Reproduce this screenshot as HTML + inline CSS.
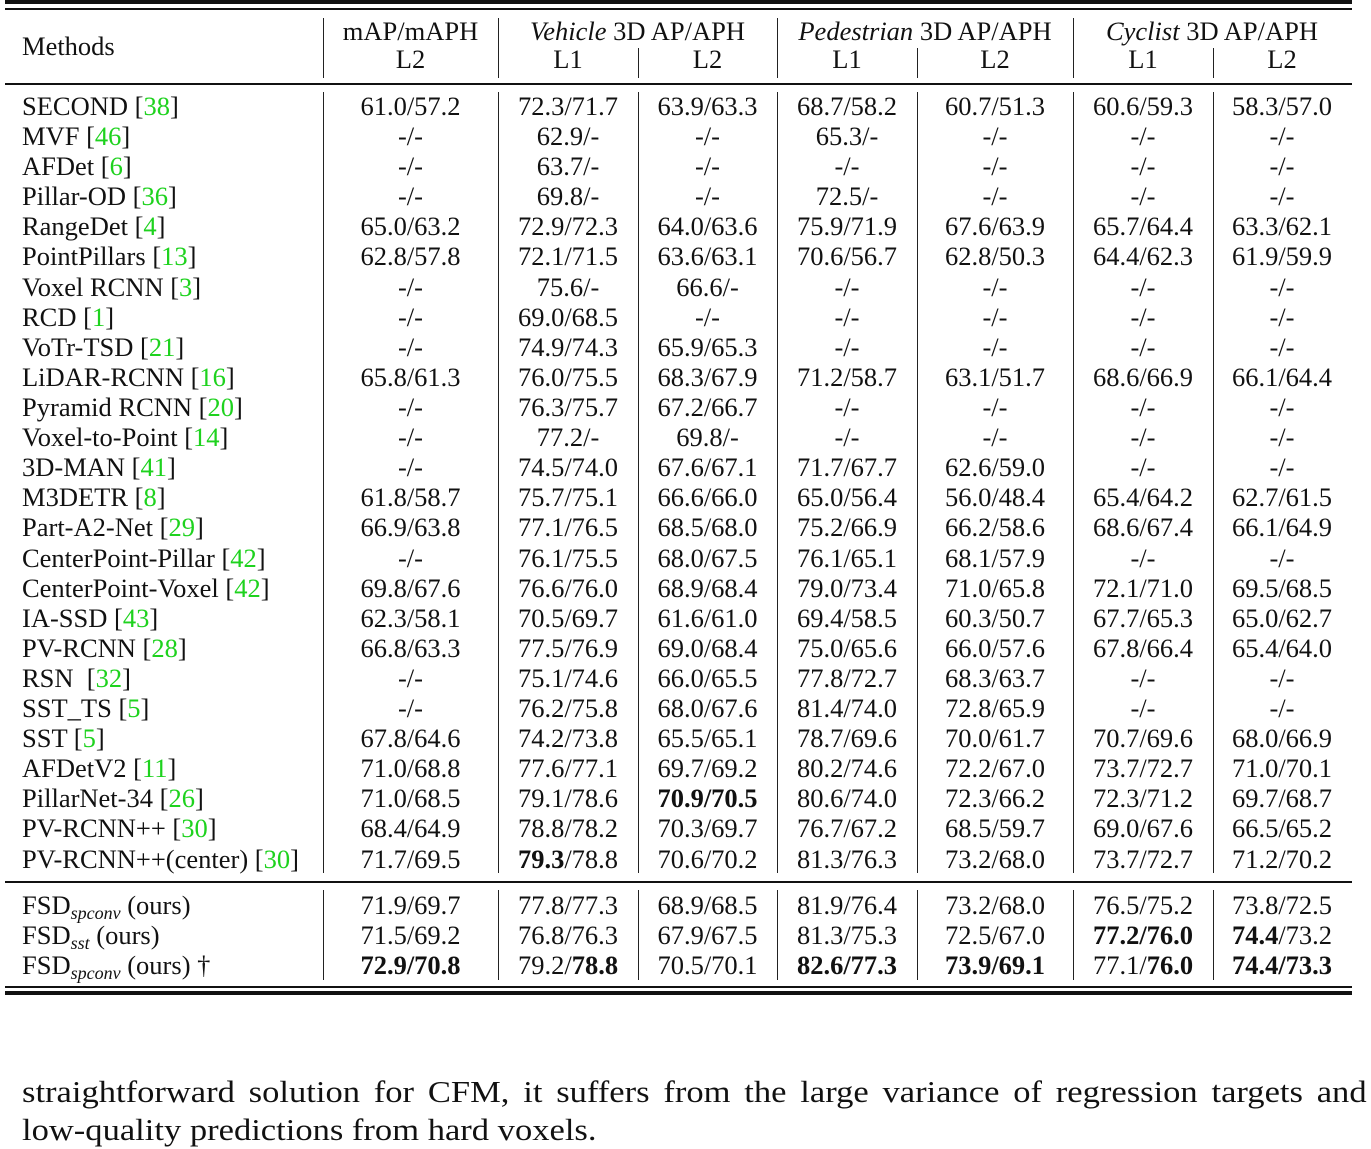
<!DOCTYPE html>
<html><head><meta charset="utf-8"><style>
body{margin:0;width:1371px;height:1148px;background:#fff;position:relative;overflow:hidden;font-family:"Liberation Serif",serif;color:#111;font-size:26.5px}
.h{position:absolute;left:5px;width:1347px;background:#111}
.v{position:absolute;width:1.3px;background:#222}
.r{position:absolute;left:0;width:1371px;height:30px;line-height:30px;white-space:nowrap}
.r span{position:absolute;top:0;text-align:center}
.r span.a{left:22px;text-align:left}
.b{left:323px;width:175px}.c{left:498px;width:140px}.d{left:638px;width:139px}.e{left:777px;width:140px}.f{left:917px;width:156px}.g{left:1073px;width:140px}.k{left:1213px;width:138px}
g{color:#1ed21e}
sub{font-size:18px;font-style:italic;vertical-align:-5px}
.t{position:absolute;left:22px;width:1207px;font-size:31px;line-height:38px;text-align:justify;transform:scaleX(1.114);transform-origin:0 0;white-space:nowrap}
</style></head><body>
<div class="h" style="top:0;height:3.5px"></div>
<div class="h" style="top:8px;height:1.5px"></div>
<div class="h" style="top:83px;height:1.5px"></div>
<div class="h" style="top:881px;height:1.5px"></div>
<div class="h" style="top:986px;height:1.5px"></div>
<div class="h" style="top:991px;height:3.5px"></div>
<div class="v" style="left:323px;top:18px;height:60px"></div>
<div class="v" style="left:498px;top:18px;height:60px"></div>
<div class="v" style="left:777px;top:18px;height:60px"></div>
<div class="v" style="left:1073px;top:18px;height:60px"></div>
<div class="v" style="left:638px;top:48px;height:30px"></div>
<div class="v" style="left:917px;top:48px;height:30px"></div>
<div class="v" style="left:1213px;top:48px;height:30px"></div>
<div class="v" style="left:323px;top:92px;height:781px"></div><div class="v" style="left:498px;top:92px;height:781px"></div><div class="v" style="left:638px;top:92px;height:781px"></div><div class="v" style="left:777px;top:92px;height:781px"></div><div class="v" style="left:917px;top:92px;height:781px"></div><div class="v" style="left:1073px;top:92px;height:781px"></div><div class="v" style="left:1213px;top:92px;height:781px"></div>
<div class="v" style="left:323px;top:890px;height:90px"></div><div class="v" style="left:498px;top:890px;height:90px"></div><div class="v" style="left:638px;top:890px;height:90px"></div><div class="v" style="left:777px;top:890px;height:90px"></div><div class="v" style="left:917px;top:890px;height:90px"></div><div class="v" style="left:1073px;top:890px;height:90px"></div><div class="v" style="left:1213px;top:890px;height:90px"></div>

<div class="r" style="top:31px"><span class="a">Methods</span></div>
<div class="r" style="top:16px"><span class="b">mAP/mAPH</span><span style="left:498px;width:279px"><i>Vehicle</i> 3D AP/APH</span><span style="left:777px;width:296px"><i>Pedestrian</i> 3D AP/APH</span><span style="left:1073px;width:278px"><i>Cyclist</i> 3D AP/APH</span></div>
<div class="r" style="top:44px"><span class="b">L2</span><span class="c">L1</span><span class="d">L2</span><span class="e">L1</span><span class="f">L2</span><span class="g">L1</span><span class="k">L2</span></div>

<div class="r" style="top:91px"><span class="a">SECOND [<g>38</g>]</span><span class="b">61.0/57.2</span><span class="c">72.3/71.7</span><span class="d">63.9/63.3</span><span class="e">68.7/58.2</span><span class="f">60.7/51.3</span><span class="g">60.6/59.3</span><span class="k">58.3/57.0</span></div>
<div class="r" style="top:121px"><span class="a">MVF [<g>46</g>]</span><span class="b">-/-</span><span class="c">62.9/-</span><span class="d">-/-</span><span class="e">65.3/-</span><span class="f">-/-</span><span class="g">-/-</span><span class="k">-/-</span></div>
<div class="r" style="top:151px"><span class="a">AFDet [<g>6</g>]</span><span class="b">-/-</span><span class="c">63.7/-</span><span class="d">-/-</span><span class="e">-/-</span><span class="f">-/-</span><span class="g">-/-</span><span class="k">-/-</span></div>
<div class="r" style="top:181px"><span class="a">Pillar-OD [<g>36</g>]</span><span class="b">-/-</span><span class="c">69.8/-</span><span class="d">-/-</span><span class="e">72.5/-</span><span class="f">-/-</span><span class="g">-/-</span><span class="k">-/-</span></div>
<div class="r" style="top:211px"><span class="a">RangeDet [<g>4</g>]</span><span class="b">65.0/63.2</span><span class="c">72.9/72.3</span><span class="d">64.0/63.6</span><span class="e">75.9/71.9</span><span class="f">67.6/63.9</span><span class="g">65.7/64.4</span><span class="k">63.3/62.1</span></div>
<div class="r" style="top:241px"><span class="a">PointPillars [<g>13</g>]</span><span class="b">62.8/57.8</span><span class="c">72.1/71.5</span><span class="d">63.6/63.1</span><span class="e">70.6/56.7</span><span class="f">62.8/50.3</span><span class="g">64.4/62.3</span><span class="k">61.9/59.9</span></div>
<div class="r" style="top:272px"><span class="a">Voxel RCNN [<g>3</g>]</span><span class="b">-/-</span><span class="c">75.6/-</span><span class="d">66.6/-</span><span class="e">-/-</span><span class="f">-/-</span><span class="g">-/-</span><span class="k">-/-</span></div>
<div class="r" style="top:302px"><span class="a">RCD [<g>1</g>]</span><span class="b">-/-</span><span class="c">69.0/68.5</span><span class="d">-/-</span><span class="e">-/-</span><span class="f">-/-</span><span class="g">-/-</span><span class="k">-/-</span></div>
<div class="r" style="top:332px"><span class="a">VoTr-TSD [<g>21</g>]</span><span class="b">-/-</span><span class="c">74.9/74.3</span><span class="d">65.9/65.3</span><span class="e">-/-</span><span class="f">-/-</span><span class="g">-/-</span><span class="k">-/-</span></div>
<div class="r" style="top:362px"><span class="a">LiDAR-RCNN [<g>16</g>]</span><span class="b">65.8/61.3</span><span class="c">76.0/75.5</span><span class="d">68.3/67.9</span><span class="e">71.2/58.7</span><span class="f">63.1/51.7</span><span class="g">68.6/66.9</span><span class="k">66.1/64.4</span></div>
<div class="r" style="top:392px"><span class="a">Pyramid RCNN [<g>20</g>]</span><span class="b">-/-</span><span class="c">76.3/75.7</span><span class="d">67.2/66.7</span><span class="e">-/-</span><span class="f">-/-</span><span class="g">-/-</span><span class="k">-/-</span></div>
<div class="r" style="top:422px"><span class="a">Voxel-to-Point [<g>14</g>]</span><span class="b">-/-</span><span class="c">77.2/-</span><span class="d">69.8/-</span><span class="e">-/-</span><span class="f">-/-</span><span class="g">-/-</span><span class="k">-/-</span></div>
<div class="r" style="top:452px"><span class="a">3D-MAN [<g>41</g>]</span><span class="b">-/-</span><span class="c">74.5/74.0</span><span class="d">67.6/67.1</span><span class="e">71.7/67.7</span><span class="f">62.6/59.0</span><span class="g">-/-</span><span class="k">-/-</span></div>
<div class="r" style="top:482px"><span class="a">M3DETR [<g>8</g>]</span><span class="b">61.8/58.7</span><span class="c">75.7/75.1</span><span class="d">66.6/66.0</span><span class="e">65.0/56.4</span><span class="f">56.0/48.4</span><span class="g">65.4/64.2</span><span class="k">62.7/61.5</span></div>
<div class="r" style="top:512px"><span class="a">Part-A2-Net [<g>29</g>]</span><span class="b">66.9/63.8</span><span class="c">77.1/76.5</span><span class="d">68.5/68.0</span><span class="e">75.2/66.9</span><span class="f">66.2/58.6</span><span class="g">68.6/67.4</span><span class="k">66.1/64.9</span></div>
<div class="r" style="top:543px"><span class="a">CenterPoint-Pillar [<g>42</g>]</span><span class="b">-/-</span><span class="c">76.1/75.5</span><span class="d">68.0/67.5</span><span class="e">76.1/65.1</span><span class="f">68.1/57.9</span><span class="g">-/-</span><span class="k">-/-</span></div>
<div class="r" style="top:573px"><span class="a">CenterPoint-Voxel [<g>42</g>]</span><span class="b">69.8/67.6</span><span class="c">76.6/76.0</span><span class="d">68.9/68.4</span><span class="e">79.0/73.4</span><span class="f">71.0/65.8</span><span class="g">72.1/71.0</span><span class="k">69.5/68.5</span></div>
<div class="r" style="top:603px"><span class="a">IA-SSD [<g>43</g>]</span><span class="b">62.3/58.1</span><span class="c">70.5/69.7</span><span class="d">61.6/61.0</span><span class="e">69.4/58.5</span><span class="f">60.3/50.7</span><span class="g">67.7/65.3</span><span class="k">65.0/62.7</span></div>
<div class="r" style="top:633px"><span class="a">PV-RCNN [<g>28</g>]</span><span class="b">66.8/63.3</span><span class="c">77.5/76.9</span><span class="d">69.0/68.4</span><span class="e">75.0/65.6</span><span class="f">66.0/57.6</span><span class="g">67.8/66.4</span><span class="k">65.4/64.0</span></div>
<div class="r" style="top:663px"><span class="a">RSN &nbsp;[<g>32</g>]</span><span class="b">-/-</span><span class="c">75.1/74.6</span><span class="d">66.0/65.5</span><span class="e">77.8/72.7</span><span class="f">68.3/63.7</span><span class="g">-/-</span><span class="k">-/-</span></div>
<div class="r" style="top:693px"><span class="a">SST_TS [<g>5</g>]</span><span class="b">-/-</span><span class="c">76.2/75.8</span><span class="d">68.0/67.6</span><span class="e">81.4/74.0</span><span class="f">72.8/65.9</span><span class="g">-/-</span><span class="k">-/-</span></div>
<div class="r" style="top:723px"><span class="a">SST [<g>5</g>]</span><span class="b">67.8/64.6</span><span class="c">74.2/73.8</span><span class="d">65.5/65.1</span><span class="e">78.7/69.6</span><span class="f">70.0/61.7</span><span class="g">70.7/69.6</span><span class="k">68.0/66.9</span></div>
<div class="r" style="top:753px"><span class="a">AFDetV2 [<g>11</g>]</span><span class="b">71.0/68.8</span><span class="c">77.6/77.1</span><span class="d">69.7/69.2</span><span class="e">80.2/74.6</span><span class="f">72.2/67.0</span><span class="g">73.7/72.7</span><span class="k">71.0/70.1</span></div>
<div class="r" style="top:783px"><span class="a">PillarNet-34 [<g>26</g>]</span><span class="b">71.0/68.5</span><span class="c">79.1/78.6</span><span class="d"><b>70.9/70.5</b></span><span class="e">80.6/74.0</span><span class="f">72.3/66.2</span><span class="g">72.3/71.2</span><span class="k">69.7/68.7</span></div>
<div class="r" style="top:813px"><span class="a">PV-RCNN++ [<g>30</g>]</span><span class="b">68.4/64.9</span><span class="c">78.8/78.2</span><span class="d">70.3/69.7</span><span class="e">76.7/67.2</span><span class="f">68.5/59.7</span><span class="g">69.0/67.6</span><span class="k">66.5/65.2</span></div>
<div class="r" style="top:844px"><span class="a">PV-RCNN++(center) [<g>30</g>]</span><span class="b">71.7/69.5</span><span class="c"><b>79.3</b>/78.8</span><span class="d">70.6/70.2</span><span class="e">81.3/76.3</span><span class="f">73.2/68.0</span><span class="g">73.7/72.7</span><span class="k">71.2/70.2</span></div>

<div class="r" style="top:890px"><span class="a">FSD<sub>spconv</sub> (ours)</span><span class="b">71.9/69.7</span><span class="c">77.8/77.3</span><span class="d">68.9/68.5</span><span class="e">81.9/76.4</span><span class="f">73.2/68.0</span><span class="g">76.5/75.2</span><span class="k">73.8/72.5</span></div>
<div class="r" style="top:920px"><span class="a">FSD<sub>sst</sub> (ours)</span><span class="b">71.5/69.2</span><span class="c">76.8/76.3</span><span class="d">67.9/67.5</span><span class="e">81.3/75.3</span><span class="f">72.5/67.0</span><span class="g"><b>77.2/76.0</b></span><span class="k"><b>74.4</b>/73.2</span></div>
<div class="r" style="top:950px"><span class="a">FSD<sub>spconv</sub> (ours) †</span><span class="b"><b>72.9/70.8</b></span><span class="c">79.2/<b>78.8</b></span><span class="d">70.5/70.1</span><span class="e"><b>82.6/77.3</b></span><span class="f"><b>73.9/69.1</b></span><span class="g">77.1/<b>76.0</b></span><span class="k"><b>74.4/73.3</b></span></div>

<div class="t" style="top:1073px;text-align-last:justify;white-space:normal">straightforward solution for CFM, it suffers from the large variance of regression targets and</div>
<div class="t" style="top:1111px">low-quality predictions from hard voxels.</div>
</body></html>
